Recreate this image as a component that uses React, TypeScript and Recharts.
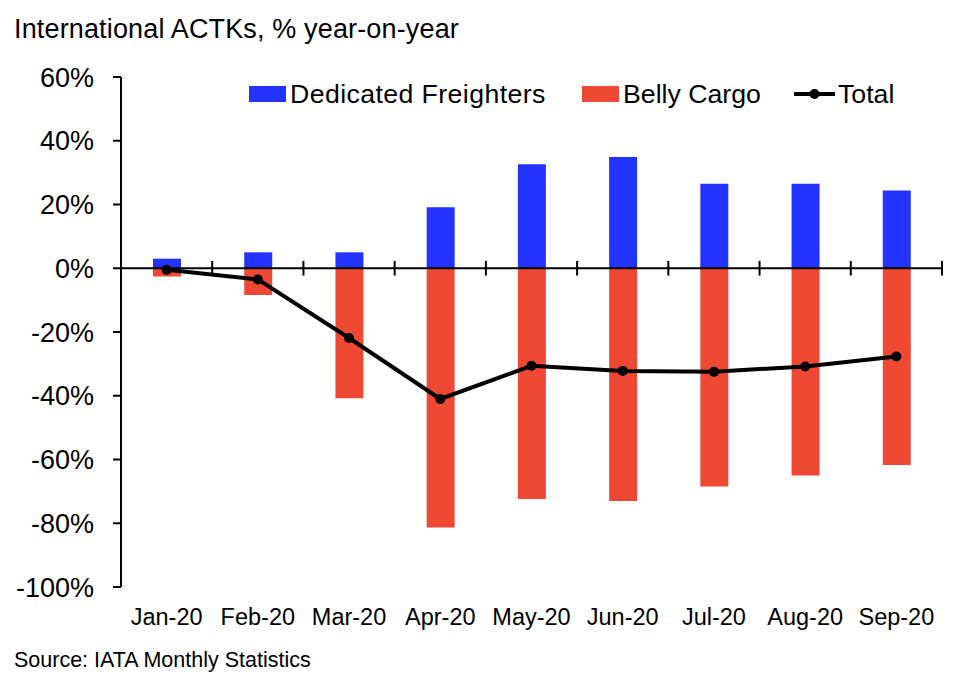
import React from 'react';
import {
  ComposedChart,
  Bar,
  Line,
  XAxis,
  YAxis,
  ReferenceLine,
  Legend,
} from 'recharts';

const months = ['Jan-20', 'Feb-20', 'Mar-20', 'Apr-20', 'May-20', 'Jun-20', 'Jul-20', 'Aug-20', 'Sep-20'];
const freighters = [3, 5, 5, 19.1, 32.6, 34.9, 26.5, 26.5, 24.4];
const belly = [-2.6, -8.4, -40.8, -81.3, -72.4, -73.0, -68.5, -65.0, -61.7];
const total = [-0.5, -3.5, -21.9, -41.0, -30.6, -32.2, -32.5, -30.8, -27.7];
const yTicks = [-100, -80, -60, -40, -20, 0, 20, 40, 60];

const BLUE = '#2233FF';
const RED = '#EF4934';
const FONT = '"Liberation Sans", Arial, sans-serif';

const data = months.map((m, i) => ({
  month: m,
  pos: i + 0.5,
  freighters: freighters[i],
  belly: belly[i],
  total: total[i],
}));

// category boundaries 0..N (0 sits on the y axis)
const boundaries = [0, ...months.map((_, i) => i + 1)];

const legendItems = [
  { key: 'freighters', label: 'Dedicated Freighters', kind: 'rect', color: BLUE, x: 249, textX: 290, ls: 0.4 },
  { key: 'belly', label: 'Belly Cargo', kind: 'rect', color: RED, x: 582, textX: 623, ls: 0 },
  { key: 'total', label: 'Total', kind: 'line', color: '#000', x: 794, textX: 838, ls: 0 },
];

const renderLegend = () => (
  <div style={{ position: 'relative', width: 960, height: 40 }}>
    {legendItems.map((it) => (
      <React.Fragment key={it.key}>
        {it.kind === 'rect' ? (
          <div
            style={{
              position: 'absolute',
              left: it.x,
              top: 8,
              width: 37,
              height: 16,
              background: it.color,
            }}
          />
        ) : (
          <svg style={{ position: 'absolute', left: it.x, top: 6 }} width={42} height={20}>
            <line x1={0} y1={10} x2={41} y2={10} stroke="#000" strokeWidth={4} />
            <circle cx={20.5} cy={10} r={5} fill="#000" />
          </svg>
        )}
        <span
          style={{
            position: 'absolute',
            left: it.textX,
            top: 0,
            fontFamily: FONT,
            fontSize: 26.7,
            lineHeight: '32px',
            letterSpacing: it.ls,
            color: '#000',
            whiteSpace: 'nowrap',
          }}
        >
          {it.label}
        </span>
      </React.Fragment>
    ))}
  </div>
);

export default function App() {
  return (
    <div style={{ position: 'absolute', left: 0, top: 0, width: 960, height: 693, background: '#fff' }}>
      <div
        style={{
          position: 'absolute',
          left: 14,
          top: 16,
          fontFamily: FONT,
          fontSize: 27,
          lineHeight: '27px',
          letterSpacing: 0.15,
          color: '#000',
          whiteSpace: 'nowrap',
        }}
      >
        International ACTKs, % year-on-year
      </div>
      <ComposedChart
        width={960}
        height={693}
        data={data}
        stackOffset="sign"
        margin={{ top: 77, right: 18, bottom: 56, left: 0 }}
      >
        <XAxis
          dataKey="month"
          axisLine={false}
          tickLine={false}
          tickSize={0}
          tickMargin={21}
          height={50}
          interval={0}
          tick={{ fill: '#000', fontSize: 23.5, fontFamily: FONT }}
        />
        <XAxis
          xAxisId="num"
          dataKey="pos"
          type="number"
          domain={[0, months.length]}
          allowDataOverflow
          hide
        />
        <YAxis
          domain={[-100, 60]}
          ticks={yTicks}
          interval={0}
          width={121}
          tickFormatter={(v) => `${v}%`}
          axisLine={{ stroke: '#000', strokeWidth: 2 }}
          tickLine={{ stroke: '#000', strokeWidth: 2 }}
          tickSize={8}
          tickMargin={19}
          tick={{ fill: '#000', fontSize: 27, fontFamily: FONT }}
        />
        <Legend
          layout="horizontal"
          verticalAlign="middle"
          align="center"
          content={renderLegend}
          wrapperStyle={{ top: 78, left: 0, width: 960, height: 40 }}
        />
        <Bar dataKey="freighters" name="Dedicated Freighters" stackId="a" fill={BLUE} barSize={28} isAnimationActive={false} />
        <Bar dataKey="belly" name="Belly Cargo" stackId="a" fill={RED} barSize={28} isAnimationActive={false} />
        <ReferenceLine y={0} stroke="#000" strokeWidth={2} />
        {boundaries.map((b) => (
          <ReferenceLine
            key={b}
            xAxisId="num"
            ifOverflow="visible"
            segment={[
              { x: b, y: -2.3 },
              { x: b, y: 2.3 },
            ]}
            stroke="#000"
            strokeWidth={2}
          />
        ))}
        <Line
          dataKey="total"
          name="Total"
          stroke="#000"
          strokeWidth={4}
          dot={{ r: 5, fill: '#000', stroke: '#000', strokeWidth: 0 }}
          activeDot={false}
          isAnimationActive={false}
        />
      </ComposedChart>
      <div
        style={{
          position: 'absolute',
          left: 14,
          top: 650,
          fontFamily: FONT,
          fontSize: 21.5,
          lineHeight: '21.5px',
          color: '#000',
          whiteSpace: 'nowrap',
        }}
      >
        Source: IATA Monthly Statistics
      </div>
    </div>
  );
}
